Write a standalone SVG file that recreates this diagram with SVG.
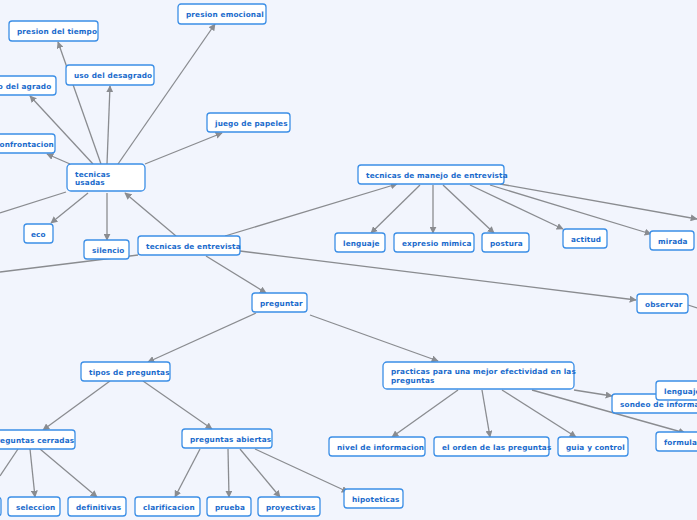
<svg xmlns="http://www.w3.org/2000/svg" width="697" height="520" viewBox="0 0 697 520">
<style>
.n rect{fill:#fff;stroke:#3b8ee6;stroke-width:1.3}
.n text{font-family:"DejaVu Sans",Verdana,sans-serif;font-weight:bold;font-size:7.3px;letter-spacing:0.15px;fill:#1a6bcc}
#c line{stroke:#8a8c90;stroke-width:1.3;fill:none}
</style>
<defs><marker id="a" viewBox="0 0 10 10" refX="9" refY="5" markerWidth="7" markerHeight="7" orient="auto" markerUnits="userSpaceOnUse"><path d="M0,0L10,5L0,10z" fill="#8a8c90"/></marker></defs>
<rect width="697" height="520" fill="#f2f5fd"/>
<g id="c">
<line x1="118" y1="164" x2="215" y2="24" marker-end="url(#a)"/>
<line x1="101" y1="164" x2="58" y2="42" marker-end="url(#a)"/>
<line x1="107" y1="164" x2="110" y2="86" marker-end="url(#a)"/>
<line x1="93" y1="164" x2="30" y2="96" marker-end="url(#a)"/>
<line x1="70" y1="164" x2="47" y2="154" marker-end="url(#a)"/>
<line x1="145" y1="164" x2="222" y2="133" marker-end="url(#a)"/>
<line x1="66" y1="192" x2="0" y2="213"/>
<line x1="88" y1="193" x2="51" y2="223" marker-end="url(#a)"/>
<line x1="107" y1="193" x2="107" y2="240" marker-end="url(#a)"/>
<line x1="176" y1="236" x2="125" y2="193" marker-end="url(#a)"/>
<line x1="225" y1="236" x2="397" y2="184" marker-end="url(#a)"/>
<line x1="240" y1="251" x2="636" y2="300" marker-end="url(#a)"/>
<line x1="138" y1="255" x2="0" y2="272"/>
<line x1="206" y1="256" x2="266" y2="293" marker-end="url(#a)"/>
<line x1="420" y1="185" x2="371" y2="233" marker-end="url(#a)"/>
<line x1="433" y1="185" x2="433" y2="233" marker-end="url(#a)"/>
<line x1="443" y1="185" x2="494" y2="233" marker-end="url(#a)"/>
<line x1="470" y1="185" x2="563" y2="229" marker-end="url(#a)"/>
<line x1="490" y1="185" x2="651" y2="234" marker-end="url(#a)"/>
<line x1="500" y1="184" x2="697" y2="219" marker-end="url(#a)"/>
<line x1="688" y1="305" x2="697" y2="308"/>
<line x1="256" y1="313" x2="148" y2="362" marker-end="url(#a)"/>
<line x1="310" y1="315" x2="438" y2="361" marker-end="url(#a)"/>
<line x1="110" y1="381" x2="43" y2="430" marker-end="url(#a)"/>
<line x1="143" y1="381" x2="212" y2="429" marker-end="url(#a)"/>
<line x1="18" y1="449" x2="0" y2="476"/>
<line x1="30" y1="449" x2="35" y2="497" marker-end="url(#a)"/>
<line x1="40" y1="449" x2="97" y2="497" marker-end="url(#a)"/>
<line x1="200" y1="449" x2="175" y2="497" marker-end="url(#a)"/>
<line x1="228" y1="449" x2="229" y2="497" marker-end="url(#a)"/>
<line x1="240" y1="449" x2="280" y2="497" marker-end="url(#a)"/>
<line x1="255" y1="449" x2="348" y2="492" marker-end="url(#a)"/>
<line x1="458" y1="390" x2="392" y2="437" marker-end="url(#a)"/>
<line x1="482" y1="390" x2="490" y2="437" marker-end="url(#a)"/>
<line x1="502" y1="390" x2="576" y2="437" marker-end="url(#a)"/>
<line x1="532" y1="390" x2="685" y2="433" marker-end="url(#a)"/>
<line x1="574" y1="390" x2="612" y2="396" marker-end="url(#a)"/>
</g>
<g id="n1" class="n"><rect x="178" y="4" width="88" height="20" rx="3"/><text x="186" y="17">presion emocional</text></g>
<g id="n2" class="n"><rect x="9" y="21" width="89" height="20" rx="3"/><text x="17" y="34">presion del tiempo</text></g>
<g id="n3" class="n"><rect x="66" y="65" width="88" height="20" rx="3"/><text x="74" y="78">uso del desagrado</text></g>
<g id="n4" class="n"><rect x="-24" y="76" width="80" height="19" rx="3"/><text x="-12" y="88.5">uso del agrado</text></g>
<g id="n5" class="n"><rect x="-15" y="134" width="70" height="19" rx="3"/><text x="-5" y="146.5">confrontacion</text></g>
<g id="n6" class="n"><rect x="67" y="164" width="78" height="27" rx="4"/><text x="75" y="176.5">tecnicas</text><text x="75" y="185">usadas</text></g>
<g id="n7" class="n"><rect x="207" y="113" width="83" height="19" rx="3"/><text x="215" y="125.5">juego de papeles</text></g>
<g id="n8" class="n"><rect x="24" y="224" width="29" height="19" rx="3"/><text x="31" y="236.5">eco</text></g>
<g id="n9" class="n"><rect x="84" y="240" width="45" height="19" rx="3"/><text x="92" y="252.5">silencio</text></g>
<g id="n10" class="n"><rect x="138" y="236" width="102" height="19" rx="3"/><text x="146" y="248.5">tecnicas de entrevista</text></g>
<g id="n11" class="n"><rect x="358" y="165" width="146" height="19" rx="3"/><text x="366" y="177.5">tecnicas de manejo de entrevista</text></g>
<g id="n12" class="n"><rect x="335" y="233" width="50" height="19" rx="3"/><text x="343" y="245.5">lenguaje</text></g>
<g id="n13" class="n"><rect x="394" y="233" width="80" height="19" rx="3"/><text x="402" y="245.5">expresio mimica</text></g>
<g id="n14" class="n"><rect x="482" y="233" width="47" height="19" rx="3"/><text x="490" y="245.5">postura</text></g>
<g id="n15" class="n"><rect x="563" y="229" width="44" height="19" rx="3"/><text x="571" y="241.5">actitud</text></g>
<g id="n16" class="n"><rect x="650" y="231" width="44" height="19" rx="3"/><text x="658" y="243.5">mirada</text></g>
<g id="n17" class="n"><rect x="252" y="293" width="55" height="19" rx="3"/><text x="260" y="305.5">preguntar</text></g>
<g id="n18" class="n"><rect x="637" y="294" width="51" height="19" rx="3"/><text x="645" y="306.5">observar</text></g>
<g id="n19" class="n"><rect x="81" y="362" width="89" height="19" rx="3"/><text x="89" y="374.5">tipos de preguntas</text></g>
<g id="n20" class="n"><rect x="383" y="362" width="191" height="27" rx="4"/><text x="391" y="374">practicas para una mejor efectividad en las</text><text x="391" y="383">preguntas</text></g>
<g id="n21" class="n"><rect x="-18" y="430" width="93" height="19" rx="3"/><text x="-9" y="442.5">preguntas cerradas</text></g>
<g id="n22" class="n"><rect x="182" y="429" width="90" height="19" rx="3"/><text x="190" y="441.5">preguntas abiertas</text></g>
<g id="n23" class="n"><rect x="-30" y="497" width="31" height="19" rx="3"/></g>
<g id="n24" class="n"><rect x="8" y="497" width="52" height="19" rx="3"/><text x="16" y="509.5">seleccion</text></g>
<g id="n25" class="n"><rect x="68" y="497" width="58" height="19" rx="3"/><text x="76" y="509.5">definitivas</text></g>
<g id="n26" class="n"><rect x="135" y="497" width="65" height="19" rx="3"/><text x="143" y="509.5">clarificacion</text></g>
<g id="n27" class="n"><rect x="207" y="497" width="44" height="19" rx="3"/><text x="215" y="509.5">prueba</text></g>
<g id="n28" class="n"><rect x="258" y="497" width="62" height="19" rx="3"/><text x="266" y="509.5">proyectivas</text></g>
<g id="n29" class="n"><rect x="344" y="489" width="59" height="19" rx="3"/><text x="352" y="501.5">hipoteticas</text></g>
<g id="n30" class="n"><rect x="329" y="437" width="96" height="19" rx="3"/><text x="337" y="449.5">nivel de informacion</text></g>
<g id="n31" class="n"><rect x="434" y="437" width="115" height="19" rx="3"/><text x="442" y="449.5">el orden de las preguntas</text></g>
<g id="n32" class="n"><rect x="558" y="437" width="70" height="19" rx="3"/><text x="566" y="449.5">guia y control</text></g>
<g id="n33" class="n"><rect x="612" y="394" width="104" height="19" rx="3"/><text x="620" y="406.5">sondeo de informacion</text></g>
<g id="n34" class="n"><rect x="656" y="381" width="50" height="19" rx="3"/><text x="664" y="393.5">lenguaje</text></g>
<g id="n35" class="n"><rect x="656" y="432" width="62" height="19" rx="3"/><text x="664" y="444.5">formulacion</text></g>
</svg>
